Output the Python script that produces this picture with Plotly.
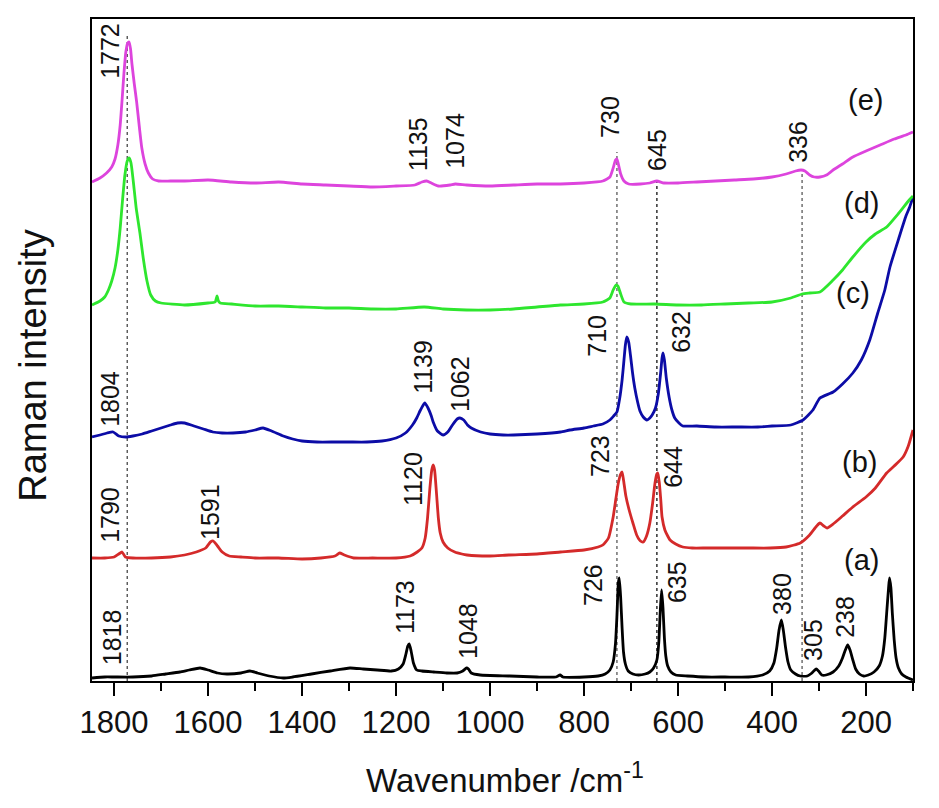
import plotly.graph_objects as go

# ---------------- data ----------------
# wavenumbers (cm-1) and Raman intensity (arbitrary units, offset curves)
wn_e = [1847, 1830, 1816, 1805, 1798, 1792, 1787, 1783, 1779, 1775, 1771, 1768, 1765, 1762,
        1757, 1752, 1746, 1741, 1734, 1727, 1718, 1705, 1680, 1650, 1600, 1550, 1500, 1450,
        1400, 1350, 1300, 1250, 1200, 1160, 1145, 1135, 1125, 1110, 1085, 1074, 1050, 1000,
        950, 900, 850, 800, 760, 745, 738, 733, 730, 727, 722, 715, 705, 680, 660, 645,
        630, 600, 560, 520, 480, 440, 400, 370, 350, 338, 330, 320, 310, 298, 284, 270, 250,
        228, 200, 170, 140, 115, 100]
int_e = [496, 500, 505, 511, 519, 533, 553, 578, 605, 626, 635, 636, 629, 614,
         594, 576, 550, 530, 514, 505, 499, 497, 497, 497, 498, 496, 495, 496,
         494, 493, 492, 491, 492, 493, 496, 497, 495, 492, 493, 494, 493, 492,
         493, 494, 494, 495, 497, 501, 510, 518, 519, 514, 504, 497, 494, 494, 495, 497,
         495, 495, 496, 497, 498, 499, 501, 504, 507, 508, 507, 503, 501, 501, 503, 508, 514,
         521, 527, 533, 539, 543, 546]

wn_d = [1847, 1830, 1820, 1812, 1805, 1798, 1792, 1787, 1782, 1777, 1772, 1768, 1764, 1759,
        1753, 1745, 1738, 1730, 1722, 1712, 1700, 1650, 1600, 1585, 1581, 1578, 1574, 1550,
        1500, 1450, 1400, 1350, 1300, 1250, 1200, 1140, 1100, 1050, 1000, 950, 900, 850, 800,
        760, 745, 738, 732, 728, 722, 715, 700, 650, 600, 550, 500, 450, 400, 360, 336,
        320, 298, 270, 250, 228, 200, 180, 156, 130, 108, 100]
int_d = [373, 377, 381, 388, 397, 410, 428, 450, 478, 503, 517, 520, 515, 496,
         470, 445, 420, 397, 383, 377, 375, 373, 375, 376, 382, 377, 375, 374,
         372, 372, 371, 370, 370, 369, 369, 371, 369, 368, 368, 369, 371, 373, 374,
         376, 380, 388, 393, 392, 384, 376, 374, 374, 373, 373, 374, 375, 376, 380, 384,
         385, 386, 398, 408, 421, 436, 444, 451, 465, 478, 482]

wn_c = [1847, 1830, 1815, 1802, 1790, 1775, 1760, 1740, 1720, 1700, 1680, 1665, 1650, 1630,
        1610, 1590, 1570, 1547, 1520, 1500, 1483, 1465, 1440, 1420, 1400, 1368, 1330, 1300,
        1262, 1230, 1200, 1180, 1165, 1156, 1148, 1139, 1132, 1125, 1121, 1112, 1100, 1090,
        1080, 1070, 1064, 1056, 1048, 1040, 1020, 1000, 972, 950, 900, 850, 830, 800, 780,
        760, 745, 737, 730, 724, 719, 715, 712, 709, 705, 701, 697, 692, 686, 681, 674,
        666, 660, 655, 648, 642, 637, 634, 632, 629, 625, 619, 613, 607, 598, 590, 560,
        520, 475, 430, 400, 360, 334, 313, 298, 270, 250, 228, 210, 192, 175, 160, 149,
        130, 115, 107, 100]
int_c = [241, 243, 245, 246, 242, 241, 242, 244, 247, 250, 253, 255, 255, 252,
         249, 246, 245, 245, 246, 248, 250, 247, 242, 239, 237, 236, 236, 236,
         236, 237, 240, 245, 253, 260, 268, 275, 270, 262, 256, 247, 243, 246,
         253, 259, 260, 258, 253, 250, 246, 244, 243, 243, 244, 246, 248, 250, 252,
         254, 258, 262, 266, 280, 298, 318, 333, 341, 336, 322, 306, 290, 276, 267, 261,
         258, 260, 263, 270, 284, 305, 320, 325, 318, 300, 281, 268, 260, 255, 252, 252,
         251, 251, 251, 252, 253, 258, 268, 280, 286, 294, 305, 318, 338, 365, 388, 411,
         440, 462, 471, 481]

wn_b = [1847, 1820, 1800, 1790, 1783, 1776, 1760, 1720, 1680, 1650, 1625, 1605, 1595, 1589,
        1580, 1570, 1555, 1530, 1500, 1450, 1400, 1360, 1330, 1320, 1310, 1290, 1250, 1200,
        1170, 1155, 1145, 1138, 1133, 1128, 1124, 1121, 1118, 1114, 1110, 1106, 1100, 1090,
        1075, 1060, 1049, 1000, 960, 900, 850, 800, 770, 760, 748, 738, 732, 727, 722, 719,
        716, 711, 704, 696, 688, 680, 674, 667, 660, 654, 649, 645, 643, 640, 637, 634,
        628, 622, 617, 605, 590, 570, 540, 500, 450, 404, 370, 340, 320, 305, 298, 290, 283,
        270, 250, 228, 200, 180, 156, 140, 121, 110, 100]
int_b = [120, 120, 121, 124, 126, 121, 120, 120, 121, 123, 126, 130, 136, 137,
         132, 126, 122, 121, 120, 120, 119, 120, 122, 125, 123, 120, 120, 120,
         122, 126, 130, 140, 160, 190, 208, 213, 208, 185, 160, 145, 136, 130,
         126, 124, 123, 122, 123, 124, 126, 128, 131, 133, 140, 161, 180, 195, 204, 206,
         198, 182, 168, 155, 143, 137, 136, 142, 155, 175, 195, 204, 205, 196, 180, 161,
         148, 142, 138, 134, 131, 130, 130, 130, 130, 130, 131, 135, 143, 152, 155, 152, 150,
         154, 162, 171, 181, 190, 205, 212, 221, 232, 248]

wn_a = [1847, 1820, 1800, 1760, 1720, 1690, 1660, 1640, 1617, 1600, 1580, 1560, 1530, 1511,
        1495, 1470, 1440, 1420, 1380, 1340, 1298, 1270, 1240, 1210, 1195, 1185, 1179, 1175,
        1172, 1168, 1163, 1156, 1145, 1120, 1092, 1070, 1058, 1050, 1046, 1040, 1021, 958,
        900, 860, 851, 845, 800, 770, 755, 745, 738, 733, 730, 727, 725, 722, 719, 716, 712,
        706, 696, 684, 670, 660, 652, 645, 641, 638, 635, 632, 629, 626, 622, 615, 605,
        580, 540, 500, 450, 420, 405, 396, 390, 385, 380, 376, 371, 366, 360, 350, 340,
        325, 318, 311, 306, 301, 294, 285, 270, 258, 250, 244, 239, 234, 228, 222, 214,
        205, 195, 183, 172, 165, 160, 156, 152, 150, 147, 144, 140, 136, 131, 124, 115, 100]
int_a = [0, 1, 1, 1, 2, 4, 6, 8, 10, 8, 5, 4, 5, 7,
         5, 2, 0, 1, 4, 7, 10, 9, 8, 7, 9, 14, 24, 32,
         34, 27, 15, 8, 7, 6, 5, 5, 7, 10, 9, 5, 3, 2,
         1, 1, 3, 1, 1, 2, 4, 8, 16, 35, 62, 95, 100, 80, 50, 26, 14,
         7, 4, 3, 4, 6, 10, 18, 35, 65, 88, 70, 40, 22, 12, 6, 3,
         2, 1, 1, 1, 3, 7, 15, 30, 48, 58, 48, 30, 16, 8, 4, 2,
         2, 4, 7, 9, 7, 3, 3, 6, 12, 20, 28, 33, 28, 18, 9, 4,
         2, 3, 6, 12, 22, 40, 65, 90, 100, 90, 65, 38, 20, 10, 4, 1, -2]

series = [
    ("(a)", wn_a, int_a, "#000000"),
    ("(b)", wn_b, int_b, "#d42a2a"),
    ("(c)", wn_c, int_c, "#0c0ca6"),
    ("(d)", wn_d, int_d, "#2ee62e"),
    ("(e)", wn_e, int_e, "#dd44dd"),
]

# peak labels: text and where they sit (wavenumber, intensity)
peak_text = ["1772", "1135", "1074", "730", "645", "336",
             "1804", "1139", "1062", "710", "632",
             "1790", "1591", "1120", "723", "644",
             "1818", "1173", "1048", "726", "635", "380", "305", "238"]
peak_x = [1809, 1153, 1075, 745, 645, 345,
          1809, 1143, 1064, 773, 594,
          1809, 1596, 1164, 766, 611,
          1804, 1181, 1047, 781, 602, 379, 313, 245]
peak_y = [627, 534, 537, 561, 528, 536,
          279, 311, 294, 342, 346,
          163, 166, 199, 222, 211,
          41, 71, 47, 93, 96, 84, 38, 61]

curve_names = ["(e)", "(d)", "(c)", "(b)", "(a)"]
curve_name_x = [202, 209, 228, 213, 209]
curve_name_y = [578, 475, 385, 216, 118]

# dotted guide lines: wavenumber, top intensity
guide_x = [1772, 730, 645, 336]
guide_top = [645, 526, 498, 506]
guide_col = ["#555555", "#666666", "#222222", "#666666"]

tick_vals = [1800, 1600, 1400, 1200, 1000, 800, 600, 400, 200]

# ---------------- figure ----------------
fig = go.Figure()
for name, xs, ys, col in series:
    fig.add_trace(go.Scatter(x=xs, y=ys, mode="lines", name=name,
                             line=dict(color=col, width=2.8, shape="spline", smoothing=0.5),
                             showlegend=False))

shapes = []
for gx, gt, gc in zip(guide_x, guide_top, guide_col):
    shapes.append(dict(type="line", xref="x", yref="y", x0=gx, x1=gx, y0=-3, y1=gt,
                       line=dict(color=gc, width=1.4, dash="dot"), layer="below"))

annotations = []
for t, x, y in zip(peak_text, peak_x, peak_y):
    annotations.append(dict(text=t, x=x, y=y, xref="x", yref="y", showarrow=False,
                            textangle=-90, xanchor="center", yanchor="middle",
                            font=dict(family="Liberation Sans, Arial", size=25, color="#111")))
for t, x, y in zip(curve_names, curve_name_x, curve_name_y):
    annotations.append(dict(text=t, x=x, y=y, xref="x", yref="y", showarrow=False,
                            xanchor="center", yanchor="middle",
                            font=dict(family="Liberation Sans, Arial", size=29, color="#111")))

annotations.append(dict(text="Raman intensity", x=-0.072, y=0.476, xref="paper", yref="paper",
                        showarrow=False, textangle=-90, xanchor="center", yanchor="middle",
                        font=dict(family="Liberation Sans, Arial", size=38, color="#111")))
annotations.append(dict(text="Wavenumber /cm<sup>-1</sup>", x=0.503, y=-0.146,
                        xref="paper", yref="paper", showarrow=False,
                        xanchor="center", yanchor="middle",
                        font=dict(family="Liberation Sans, Arial", size=33, color="#111")))

fig.update_layout(
    width=939, height=808,
    margin=dict(l=92, r=26, t=19, b=127),
    paper_bgcolor="white", plot_bgcolor="white",
    shapes=shapes, annotations=annotations,
    xaxis=dict(range=[1847, 100], tickmode="array", tickvals=tick_vals,
               ticktext=[str(v) for v in tick_vals],
               ticks="outside", ticklen=13, tickwidth=2, tickcolor="black",
               minor=dict(dtick=100, tick0=0, ticks="outside", ticklen=8, tickwidth=2,
                          tickcolor="black", showgrid=False),
               showline=True, linewidth=2, linecolor="black", mirror=True,
               showgrid=False, zeroline=False,
               tickfont=dict(family="Liberation Sans, Arial", size=31, color="#111")),
    yaxis=dict(range=[-3, 659], showticklabels=False, ticks="",
               showline=True, linewidth=2, linecolor="black", mirror=True,
               showgrid=False, zeroline=False),
)

fig.write_html("out.html")
